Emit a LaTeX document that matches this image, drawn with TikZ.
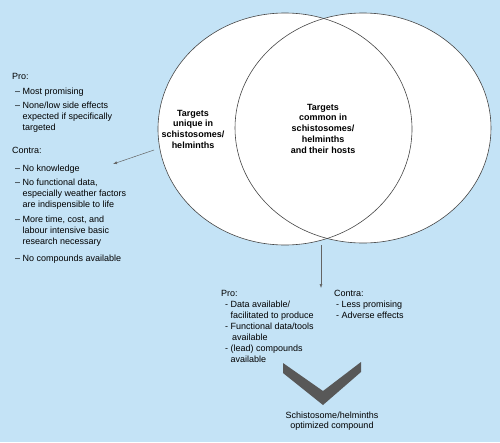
\documentclass[tikz,border=0pt]{standalone}
\usepackage{fontspec}
\setmainfont{Liberation Sans}
\usetikzlibrary{arrows.meta,shapes.geometric}
\definecolor{bg}{RGB}{196,227,246}
\definecolor{ln}{RGB}{70,70,70}
\definecolor{arr}{RGB}{100,100,100}
\definecolor{chev}{RGB}{88,88,88}
\newcommand\dlist[1]{\begin{tabular}[t]{@{}l@{\hspace{2.5pt}}l@{}}#1\end{tabular}}
\newcommand\clines[1]{\begin{tabular}[t]{@{}c@{}}#1\end{tabular}}
\newcommand\llines[1]{\begin{tabular}[t]{@{}l@{}}#1\end{tabular}}
\begin{document}
\begin{tikzpicture}[x=1pt,y=-1pt,
  txt/.style={inner sep=0pt, anchor=base west, font=\fontsize{9}{11}\selectfont},
  ctxt/.style={inner sep=0pt, anchor=base, font=\fontsize{9}{10.5}\selectfont},
  btxt/.style={inner sep=0pt, anchor=base, font=\bfseries\fontsize{9}{10.8}\selectfont},
  venn/.style={ellipse, inner sep=0pt, fill=white},
  vennline/.style={draw=ln, line width=0.6pt},
  conn/.style={draw=arr, line width=0.5pt, -{Latex[length=4pt,width=3pt]}}]
\useasboundingbox (0,0) rectangle (500,442);
\fill[bg] (0,0) rectangle (500,442);
% Venn ellipses
\node[venn, minimum width=254pt, minimum height=232pt] (L) at (285,129) {};
\node[venn, minimum width=256pt, minimum height=230pt] (R) at (363,128) {};
\draw[vennline] (L.center) ellipse [x radius=127pt, y radius=116pt];
\draw[vennline] (R.center) ellipse [x radius=128pt, y radius=115pt];
% ellipse texts
\node[btxt] (uniq) at (193,116) {\clines{Targets\\unique in\\schistosomes/\\helminths}};
\node[btxt] (comm) at (323,110) {\clines{Targets\\common in\\schistosomes/\\helminths\\and their hosts}};
% left block
\node[txt] (prol) at (12,79) {Pro:};
\node[txt] (p1) at (15,94) {\dlist{–&Most promising}};
\node[txt] (p2) at (15,108) {\dlist{–&None/low side effects\\&expected if specifically\\&targeted}};
\node[txt] (contral) at (12,153) {Contra:};
\node[txt] (c1) at (15,171) {\dlist{–&No knowledge}};
\node[txt] (c2) at (15,185) {\dlist{–&No functional data,\\&especially weather factors\\&are indispensible to life}};
\node[txt] (c3) at (15,222) {\dlist{–&More time, cost, and\\&labour intensive basic\\&research necessary}};
\node[txt] (c4) at (15,261) {\dlist{–&No compounds available}};
% bottom blocks
\node[txt] (prob) at (221,296) {\llines{Pro:\\
\hspace{4pt}- Data available/\\
\hspace{9.5pt}facilitated to produce\\
\hspace{4pt}- Functional data/tools\\
\hspace{11pt}available\\
\hspace{4pt}- (lead) compounds\\
\hspace{9.5pt}available}};
\node[txt] (contrab) at (334,296) {\llines{Contra:\\
\hspace{2pt}- Less promising\\
\hspace{2pt}- Adverse effects}};
% chevron
\fill[chev] (283,363) -- (283,373) -- (323,405) -- (361,372) -- (361,362) -- (323,391) -- cycle;
\node[ctxt] (res) at (332,418) {\clines{Schistosome/helminths\\optimized compound}};
% connectors
\coordinate (la1) at (154,150);
\coordinate (la2) at (113,164);
\draw[conn] (la1) -- (la2);
\coordinate (da1) at (321,245);
\coordinate (da2) at (321,288);
\draw[conn] (da1) -- (da2);
\end{tikzpicture}
\end{document}
